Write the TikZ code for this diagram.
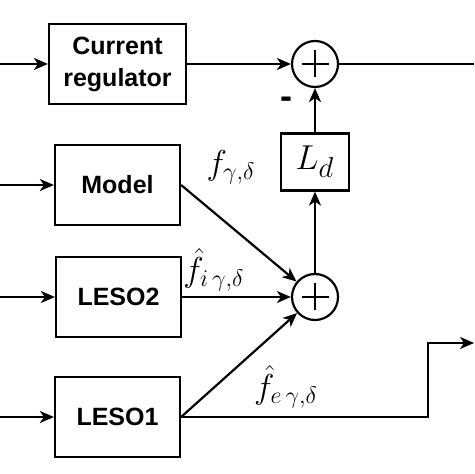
\documentclass[tikz,border=0pt]{standalone}
\usepackage{fontspec}
\setsansfont{Liberation Sans}
\usetikzlibrary{arrows.meta}
\DeclareMathSizes{16}{16}{12.5}{10}
\DeclareMathSizes{18}{18}{14}{11}

\begin{document}
\begin{tikzpicture}
[x=0.5pt,y=-0.5pt,
  every node/.style={inner sep=0pt},
  blockNode/.style={draw,line width=1.1pt,minimum width=62.5pt,minimum height=40pt,
    align=center,font=\sffamily\bfseries\fontsize{12.5}{16}\selectfont},
  sumNode/.style={draw,circle,line width=1.1pt,minimum size=23pt,
    path picture={\draw[line width=0.8pt]
      ([xshift=-6.75pt]path picture bounding box.center) -- ([xshift=6.75pt]path picture bounding box.center)
      ([yshift=-6.75pt]path picture bounding box.center) -- ([yshift=6.75pt]path picture bounding box.center);}},
  lineDecorate/.style={-{Stealth[length=7pt,width=6pt,inset=2pt]},line width=1.1pt},
  mathLabel/.style={font=\fontsize{16}{18}\selectfont}]
\useasboundingbox (0,0) rectangle (474,474);
% blocks
\node[blockNode,minimum width=68.5pt] (regulator) at (117.5,64) {Current\\regulator};
\node[blockNode] (model) at (117.5,185) {Model};
\node[blockNode] (leso2) at (118.5,297) {LESO2};
\node[blockNode] (leso1) at (117.5,417) {LESO1};
\node[sumNode] (sumTop) at (315,64) {};
\node[sumNode] (sumBot) at (315,297) {};
\node[draw,line width=1.1pt,minimum width=34pt,minimum height=28.5pt,
  font=\fontsize{18}{20}\selectfont] (ld) at (315,162) {$L_d$};
% free ends
\coordinate (inRegulator) at (0,64);
\coordinate (inModel) at (0,185);
\coordinate (inLeso2) at (0,297);
\coordinate (inLeso1) at (0,417);
\coordinate (outTop) at (474,64);
\coordinate (bendLeso1) at (428,343);
\coordinate (outLeso1) at (474,343);
% labels
\node[mathLabel] (fModel) at (231,167) {$f_{\gamma,\delta}$};
\node[mathLabel] (fLeso2) at (214,270) {$\hat{f}_{i\,\gamma,\delta}$};
\node[mathLabel] (fLeso1) at (286,387) {$\hat{f}_{e\,\gamma,\delta}$};
\node[font=\sffamily\bfseries\fontsize{18}{20}\selectfont] (minusSign) at (286,103) {-};
% connectors
\path
\foreach \startNode/\endNode in {
  inRegulator/regulator, inModel/model, inLeso2/leso2, inLeso1/leso1,
  regulator/sumTop, model.east/sumBot, leso2/sumBot, leso1.east/sumBot,
  sumBot/ld, ld/sumTop}
{
  (\startNode) edge[lineDecorate] (\endNode)
};
\draw[line width=1.1pt] (sumTop) -- (outTop);
\draw[lineDecorate] (leso1.east) -| (bendLeso1) -- (outLeso1);
\end{tikzpicture}
\end{document}
